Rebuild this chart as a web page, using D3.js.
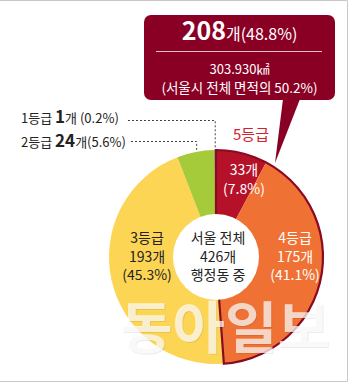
<!DOCTYPE html>
<html><head><meta charset="utf-8">
<script src="https://cdn.jsdelivr.net/npm/d3@7"></script>
<style>body{margin:0;background:#fff}svg{display:block}text{font-family:"Noto Sans CJK KR","Noto Sans",sans-serif}</style>
</head><body><svg id="c" width="350" height="383"></svg>
<script>
const grades = ["5등급","4등급","3등급","2등급","1등급"];
const counts = [33,175,193,24,1];
const percents = ["7.8%","41.1%","45.3%","5.6%","0.2%"];
const colors = ["#b5122a","#f07134","#fdd555","#a5cb3a","#3d8b37"];
const totalLabel = ["서울 전체","426개","행정동 중"];
const calloutCount = "208", calloutPct = "48.8%", calloutArea = "303.930㎢", calloutShare = "(서울시 전체 면적의 50.2%)";

const svg = d3.select("#c");
svg.append("path").attr("d","M0,0.5H347.5V381.5H0").attr("fill","none").attr("stroke","#c8c8c8").attr("stroke-width",1);

const cx = 216, cy = 257, R = 107, r0 = 43;
const g = svg.append("g").attr("transform",`translate(${cx},${cy})`);
const pie = d3.pie().sort(null).value(d=>d)(counts);
const arc = d3.arc().innerRadius(0).outerRadius(R);
g.selectAll("path.s").data(pie).join("path").attr("class","s").attr("d",arc).attr("fill",(d,i)=>colors[i]);
const comb = {startAngle:pie[0].startAngle,endAngle:pie[1].endAngle};
g.append("path").attr("d",d3.arc().innerRadius(0).outerRadius(R)(comb)).attr("fill","none").attr("stroke","#8a0a24").attr("stroke-width",2.2);
g.append("circle").attr("r",r0).attr("fill","#fff");

// watermark
svg.append("text").attr("x",121).attr("y",349).attr("textLength",210).attr("lengthAdjust","spacingAndGlyphs").attr("font-size",56).attr("font-weight","bold").attr("fill","#000").attr("opacity",0.07).text("동아일보");
svg.append("text").attr("x",120).attr("y",348).attr("textLength",210).attr("lengthAdjust","spacingAndGlyphs").attr("font-size",56).attr("font-weight","bold").attr("fill","#fff").attr("opacity",0.72).text("동아일보");

totalLabel.forEach((t,i)=>g.append("text").attr("x",2).attr("y",-14+i*18.5).attr("text-anchor","middle").attr("font-size",14).attr("fill","#222").text(t));
const lab = [
 {x:244,y:[175,193.5],lines:[counts[0]+"개","("+percents[0]+")"],fill:"#fff"},
 {x:295,y:[243,261.5,280],lines:[grades[1],counts[1]+"개","("+percents[1]+")"],fill:"#fff"},
 {x:147,y:[243,261.5,280],lines:[grades[2],counts[2]+"개","("+percents[2]+")"],fill:"#222"}
];
lab.forEach(L=>L.lines.forEach((t,i)=>svg.append("text").attr("x",L.x).attr("y",L.y[i]).attr("text-anchor","middle").attr("font-size",14).attr("fill",L.fill).text(t)));
svg.append("text").attr("x",251).attr("y",140).attr("text-anchor","middle").attr("font-size",15).attr("fill","#d42030").text(grades[0]);

function leftLabel(y,grade,n,pct,sp){
  const t = svg.append("text").attr("x",21).attr("y",y).attr("font-size",13).attr("fill","#222");
  t.append("tspan").text(grade+" ");
  t.append("tspan").attr("font-size",17).attr("font-weight","bold").text(n);
  t.append("tspan").text("개"+sp+"("+pct+")");
}
leftLabel(123,grades[4],counts[4],percents[4]," ");
leftLabel(147,grades[3],counts[3],percents[3],"");
const a1 = (pie[4].startAngle+pie[4].endAngle)/2, a2 = (pie[3].startAngle+pie[3].endAngle)/2;
const p1x = cx + R*Math.sin(a1), p2x = cx + R*Math.sin(a2)*0.95;
svg.append("path").attr("d",`M128,120.5H${p1x}V${cy-R*Math.cos(a1)}`).attr("fill","none").attr("stroke","#444").attr("stroke-dasharray","2,2");
svg.append("path").attr("d",`M131,141.5H${p2x}V151`).attr("fill","none").attr("stroke","#444").attr("stroke-dasharray","2,2");

const bx=144,by=15,bw=191,bh=85,bc="#8a0025";
svg.append("path").attr("d",`M283,${by+bh-1}L275,163L300,${by+bh-1}Z`).attr("fill",bc);
svg.append("rect").attr("x",bx).attr("y",by).attr("width",bw).attr("height",bh).attr("rx",7).attr("fill",bc);
const mx = bx+bw/2;
const t1 = svg.append("text").attr("x",mx).attr("y",40).attr("text-anchor","middle").attr("fill","#fff");
t1.append("tspan").attr("font-size",25).attr("font-weight","bold").text(calloutCount);
t1.append("tspan").attr("font-size",16).text("개("+calloutPct+")");
svg.append("line").attr("x1",156).attr("x2",322).attr("y1",51.5).attr("y2",51.5).attr("stroke","#e8c0c8").attr("stroke-width",1);
svg.append("text").attr("x",mx).attr("y",74).attr("text-anchor","middle").attr("fill","#fff").attr("font-size",13).text(calloutArea);
svg.append("text").attr("x",mx).attr("y",93).attr("text-anchor","middle").attr("fill","#fff").attr("font-size",13.5).text(calloutShare);
</script></body></html>
